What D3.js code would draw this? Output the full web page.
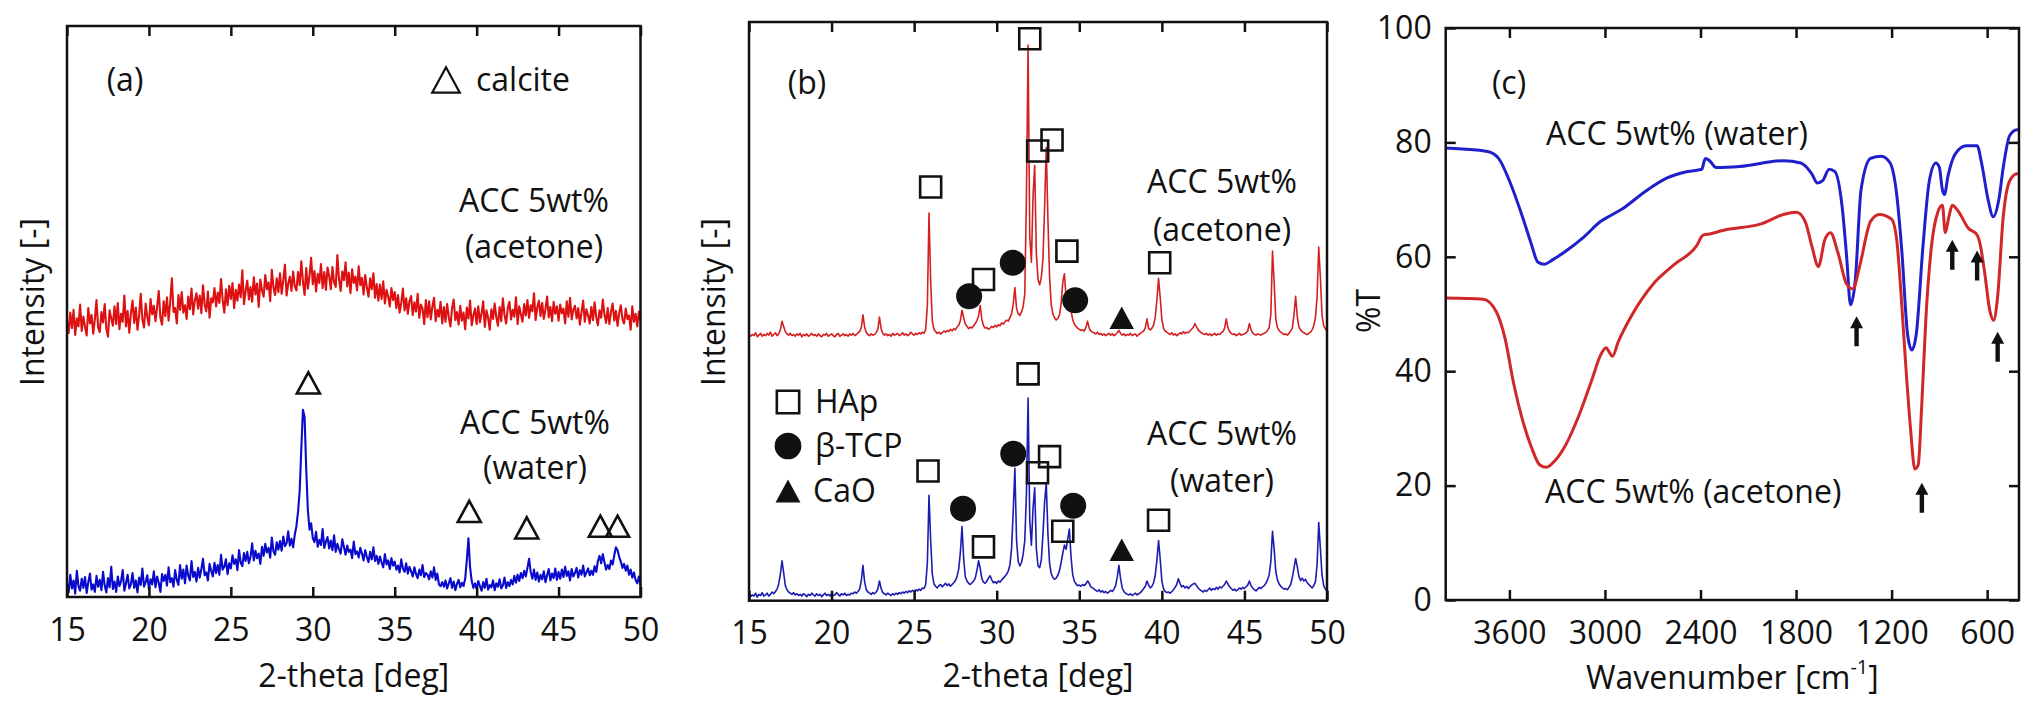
<!DOCTYPE html>
<html>
<head>
<meta charset="utf-8">
<script src="https://cdn.jsdelivr.net/npm/d3@7"></script>
<style>
    body { margin: 0; background: #fff; }
    svg text { font-family: "Open Sans", sans-serif; font-size: 32px; fill: #111; }
</style>
</head>
<body>
<svg id="fig" width="2030" height="708"></svg>
<script>
// XRD scans: 2-theta from 15 to 50 deg, one reading every 0.1 deg
const scanStart = 15;
const scanStep = 0.1;
const xrdTicks = [15, 20, 25, 30, 35, 40, 45, 50];

// (a) ACC 5wt% as prepared
const aAcetone = [
    48.5, 46.2, 49.8, 47.1, 50.3, 45.9, 48.8, 47.4, 51.2, 46.6,
    49.1, 47.3, 45.8, 50.6, 47.9, 49.4, 46.1, 48.7, 52.0, 47.2,
    46.4, 49.9, 48.1, 51.3, 47.0, 45.6, 50.2, 48.8, 47.5, 50.9,
    47.8, 51.5, 46.9, 49.6, 48.2, 52.8, 47.4, 50.1, 46.3, 49.7,
    51.9, 48.0, 50.7, 46.8, 49.3, 53.1, 48.6, 47.2, 51.4, 49.0,
    47.6, 52.2, 49.5, 51.0, 48.3, 50.8, 53.6, 48.9, 47.7, 51.8,
    49.2, 52.5, 48.4, 51.7, 55.8, 49.9, 50.6, 47.9, 52.9, 50.3,
    53.4, 49.8, 51.1, 48.7, 52.6, 50.4, 54.0, 49.5, 51.9, 53.2,
    50.5, 52.8, 49.7, 54.6, 51.2, 50.0, 53.5, 48.9, 52.3, 51.6,
    54.1, 50.9, 53.3, 51.5, 55.7, 52.0, 49.8, 53.9, 51.1, 54.5,
    52.2, 55.0, 50.6, 53.8, 51.9, 54.7, 52.5, 57.2, 51.3, 53.6,
    55.4, 52.1, 54.3, 51.7, 56.0, 53.0, 54.9, 50.8, 55.6, 53.7,
    52.6, 56.4, 53.9, 55.1, 51.8, 57.3, 54.2, 52.9, 55.8, 53.4,
    56.7, 53.1, 55.5, 58.2, 52.8, 54.9, 56.1, 53.6, 57.0, 54.4,
    53.7, 56.9, 54.6, 58.8, 55.2, 52.9, 57.6, 54.0, 56.3, 59.4,
    54.8, 57.1, 53.5, 56.6, 55.0, 58.3, 54.1, 56.9, 53.8, 57.7,
    56.2, 53.9, 57.8, 55.1, 54.3, 59.9, 55.7, 53.6, 57.0, 55.5,
    58.6, 54.4, 56.8, 53.2, 57.4, 55.0, 56.1, 53.7, 57.9, 54.6,
    55.9, 53.0, 56.4, 54.2, 52.6, 55.8, 53.9, 56.7, 52.4, 54.8,
    51.9, 54.7, 52.2, 55.3, 51.4, 53.8, 52.6, 50.9, 54.1, 52.0,
    53.4, 50.6, 52.9, 49.8, 51.5, 54.0, 50.2, 52.3, 49.6, 51.8,
    52.7, 49.4, 51.6, 50.0, 53.1, 48.9, 51.2, 50.5, 47.8, 52.0,
    49.0, 51.8, 48.6, 50.9, 52.4, 48.3, 50.3, 49.1, 51.7, 47.9,
    50.8, 48.2, 51.3, 49.0, 47.4, 50.6, 52.1, 48.5, 49.9, 47.7,
    51.0, 48.4, 49.8, 46.9, 50.7, 48.8, 51.9, 47.6, 49.3, 50.5,
    47.8, 50.9, 48.1, 49.6, 51.8, 47.3, 50.2, 48.9, 46.8, 50.4,
    48.7, 51.4, 49.0, 47.5, 50.8, 48.3, 52.3, 49.4, 47.9, 50.6,
    51.7, 48.6, 50.3, 49.1, 52.5, 47.8, 50.9, 49.5, 48.2, 51.3,
    49.3, 52.0, 48.9, 51.1, 50.0, 53.2, 48.5, 50.7, 51.9, 49.2,
    51.5, 48.7, 50.4, 52.6, 49.0, 50.8, 48.3, 51.7, 49.6, 50.9,
    48.4, 51.2, 49.7, 50.5, 47.9, 51.8, 49.1, 52.4, 48.6, 50.3,
    51.0, 48.8, 50.6, 47.7, 49.9, 51.9, 48.2, 50.4, 49.3, 47.9,
    50.8, 48.5, 51.6, 49.0, 47.6, 50.2, 48.9, 52.1, 49.5, 48.0,
    50.6, 47.8, 49.9, 51.4, 48.4, 50.1, 47.5, 49.7, 51.1, 48.6,
    47.9, 50.5, 48.7, 49.3, 46.8, 50.9, 48.2, 49.6, 47.4, 50.0,
    48.5
];
const aWater = [
    2.4, 0.8, 3.9, 1.5, 2.9, 0.6, 4.6, 1.9, 1.1, 3.2,
    1.6, 3.5, 0.7, 2.6, 4.1, 1.3, 2.2, 0.9, 3.7, 1.8,
    3.0, 1.2, 4.4, 2.0, 0.8, 3.3, 1.7, 5.3, 1.4, 2.7,
    0.9, 3.6, 1.9, 2.8, 4.7, 1.1, 2.4, 3.9, 1.5, 2.2,
    4.2, 1.6, 2.9, 0.8, 3.4, 2.1, 5.0, 1.8, 2.6, 3.8,
    1.4, 3.1, 2.2, 4.5, 1.7, 3.6, 2.5, 0.9, 4.0, 2.8,
    3.9, 2.0, 5.2, 2.6, 3.3, 1.8, 4.7, 3.0, 2.1, 5.6,
    3.2, 4.8, 2.4, 5.5, 3.7, 2.9, 6.3, 3.5, 4.4, 2.7,
    5.1, 3.4, 4.9, 6.7, 3.8, 4.3, 2.9, 5.8, 4.6, 3.6,
    6.0, 4.2, 5.6, 3.9, 7.4, 4.8, 5.3, 6.6, 4.0, 5.9,
    5.0, 7.3, 5.8, 6.6, 4.7, 8.2, 6.0, 5.4, 7.7, 6.3,
    7.9, 5.9, 7.0, 9.4, 6.4, 8.1, 6.8, 7.6, 5.8, 8.8,
    7.2, 9.3, 7.8, 8.6, 6.9, 10.4, 8.0, 7.4, 9.6, 8.3,
    9.8, 8.1, 10.6, 8.9, 9.4, 11.5, 9.0, 10.2, 8.7, 10.9,
    12.4, 14.9, 18.6, 26.0, 32.8, 31.5, 22.4, 15.2, 11.8, 12.9,
    10.3, 9.6, 11.4, 8.8, 10.0, 9.1, 11.9, 8.6, 9.7, 10.5,
    8.5, 9.9, 8.2, 10.8, 7.9, 9.3, 8.4, 7.6, 10.1, 8.8,
    7.4, 9.0, 7.9, 8.3, 6.8, 9.7, 7.5, 8.0, 6.9, 8.6,
    7.6, 6.4, 8.2, 7.0, 6.1, 7.9, 6.6, 8.7, 6.3, 7.2,
    5.8, 7.1, 6.0, 5.2, 7.5, 5.7, 6.4, 4.9, 6.8, 5.5,
    6.2, 4.8, 5.5, 4.3, 6.6, 5.0, 4.4, 5.9, 4.1, 5.3,
    4.5, 3.6, 5.2, 4.0, 3.3, 4.8, 3.8, 5.6, 3.5, 4.2,
    3.9, 3.1, 4.5, 3.4, 5.2, 3.0, 4.1, 2.2, 1.9, 2.6,
    1.8, 2.9, 1.5, 2.4, 3.3, 1.6, 2.7, 1.2, 2.3, 3.0,
    1.7, 2.5, 1.9, 3.2, 6.4, 10.3, 5.2, 2.8, 1.6, 2.4,
    1.4, 2.8, 1.9, 1.1, 2.6, 1.6, 3.2, 1.3, 2.1, 1.7,
    2.9, 1.2, 2.4, 1.8, 3.1, 1.5, 2.0, 3.4, 1.6, 2.6,
    1.9, 3.0, 2.2, 3.7, 2.5, 3.9, 2.8, 4.2, 3.3, 4.6,
    3.6, 5.1, 6.7, 4.4, 3.2, 4.8, 3.0, 4.3, 2.7, 3.9,
    3.1, 4.5, 2.6, 3.8, 4.9, 2.9, 4.1, 3.3, 5.0, 3.0,
    4.4, 3.2, 4.8, 3.5, 5.3, 3.7, 4.5, 2.9, 4.9, 3.6,
    4.2, 5.1, 3.4, 4.7, 3.9, 5.5, 3.6, 4.3, 5.0, 3.8,
    4.6, 3.9, 5.4, 4.4, 6.3, 7.2, 5.9, 7.5, 6.1, 4.8,
    5.6, 4.9, 6.4, 5.7, 7.3, 8.7, 8.2, 7.0, 6.2, 5.1,
    5.8, 4.6, 5.5, 3.9, 4.8, 3.4, 4.3, 3.0, 2.4, 3.6,
    2.0
];
// calcite reflections marked above the water pattern [2-theta, intensity]
const aCalcite = [[29.73, 37.5], [39.55, 15.0], [43.06, 12.1], [47.55, 12.4], [48.6, 12.4]];

// (b) after heating
const bAcetone = [
    46.1, 45.7, 46.0, 45.8, 46.3, 45.6, 45.9, 46.2, 45.7, 46.0,
    45.8, 46.2, 45.9, 46.4, 45.7, 46.0, 46.3, 45.8, 46.1, 46.8,
    48.3, 47.4, 46.5, 46.1, 45.9, 46.2, 45.8, 46.0, 45.7, 46.1,
    45.9, 46.2, 45.6, 46.0, 45.8, 46.1, 45.7, 45.9, 46.2, 45.8,
    46.0, 45.7, 46.1, 45.8, 45.6, 46.0, 45.9, 46.2, 45.7, 45.9,
    46.1, 45.8, 45.6, 46.0, 46.2, 45.7, 45.9, 46.1, 45.8, 46.0,
    45.7, 46.1, 45.9, 46.2, 45.8, 46.0, 46.3, 46.5, 47.2, 49.4,
    47.3, 46.4, 46.0, 45.8, 46.1, 45.9, 46.0, 46.3, 46.9, 49.0,
    47.0, 46.2, 45.9, 46.1, 45.8, 46.0, 45.7, 46.2, 45.9, 46.0,
    46.2, 45.8, 46.0, 46.3, 45.9, 46.1, 45.8, 46.0, 46.4, 46.1,
    45.9, 46.2, 46.0, 46.3, 46.1, 46.4, 46.2, 46.9, 51.0, 67.0,
    55.2, 48.3, 46.9, 46.5, 46.2, 46.4, 46.1, 46.3, 46.6, 46.4,
    46.7, 46.5, 46.9, 46.6, 47.0, 46.8, 47.3, 47.6, 48.4, 50.2,
    48.9, 47.8, 47.4, 47.0, 47.3, 47.1, 47.5, 47.9, 48.4, 49.2,
    51.0, 48.6, 47.5, 47.1, 47.2, 46.9, 47.1, 47.4, 47.2, 47.6,
    47.3, 47.7, 47.5, 48.0, 47.8, 48.2, 48.5, 48.3, 48.9, 49.6,
    51.2, 54.1, 50.6, 49.6, 49.3, 49.9, 50.8, 53.0, 70.0, 96.0,
    63.0, 58.5, 70.0, 75.2, 60.0, 55.5, 54.6, 55.8, 59.0, 68.0,
    78.3, 66.0, 56.0, 51.2, 49.6, 48.9, 48.5, 48.8, 49.4, 51.3,
    55.0, 56.5, 52.3, 51.4, 52.8, 50.1, 48.6, 47.8, 47.4, 47.1,
    46.9, 46.7, 46.8, 46.6, 47.2, 48.3, 47.1, 46.6, 46.4, 46.3,
    46.1, 46.4, 46.0, 46.2, 45.9, 46.1, 45.8, 46.0, 46.2, 45.9,
    46.1, 45.8, 46.0, 46.3, 46.7, 46.2, 45.9, 46.1, 45.8, 46.0,
    45.9, 46.2, 45.8, 46.0, 46.1, 45.7, 46.0, 46.2, 46.4, 46.6,
    47.2, 48.7, 47.0, 46.8, 47.1, 47.6, 49.0, 52.0, 55.7, 52.4,
    48.6, 47.1, 46.6, 46.4, 46.2, 46.0, 46.3, 45.9, 46.1, 45.8,
    46.0, 46.3, 46.1, 46.5, 46.2, 46.4, 46.3, 46.6, 46.9, 47.2,
    47.9, 47.3, 46.8, 46.5, 46.3, 46.1, 46.0, 46.2, 45.9, 46.1,
    45.8, 46.0, 46.2, 45.9, 46.1, 46.0, 46.3, 46.5, 47.1, 48.7,
    47.2, 46.5, 46.2, 46.0, 46.1, 45.8, 46.0, 46.2, 45.9, 46.0,
    46.1, 46.3, 46.6, 47.9, 46.8, 46.3, 46.0, 45.9, 46.1, 46.0,
    45.9, 46.1, 46.2, 46.4, 46.7, 47.2, 49.5, 60.4, 55.0, 48.6,
    47.2, 46.7, 46.4, 46.2, 46.0, 46.1, 45.9, 46.2, 46.6, 47.1,
    49.4, 52.6, 49.1, 47.3, 46.8, 46.5, 46.3, 46.1, 46.0, 46.2,
    46.4, 46.8, 47.5, 48.9, 52.5, 61.1, 55.8, 49.3, 47.5, 47.0,
    46.6
];
const bWater = [
    1.2, 0.7, 1.0, 0.8, 1.3, 0.6, 1.1, 0.9, 1.4, 0.8,
    1.0, 1.3, 0.8, 1.1, 1.5, 1.2, 1.6, 2.0, 2.9, 4.6,
    6.9, 4.8, 2.6, 1.9, 1.5, 1.3, 1.1, 1.4, 1.0, 1.2,
    0.9, 1.1, 0.8, 1.2, 1.0, 0.7, 1.1, 0.9, 1.3, 1.0,
    0.8, 1.2, 0.9, 1.1, 0.7, 1.0, 1.3, 0.9, 1.1, 0.8,
    1.2, 0.9, 1.0, 1.4, 1.1, 0.8, 1.2, 1.0, 1.3, 0.9,
    1.1, 1.0, 1.3, 1.2, 1.5, 1.3, 1.6, 2.0, 3.4, 6.1,
    3.3, 1.9, 1.5, 1.3, 1.1, 1.4, 1.2, 1.5, 2.0, 3.4,
    2.1, 1.4, 1.2, 1.0, 1.3, 1.1, 0.9, 1.2, 1.0, 1.3,
    1.1, 1.4, 1.2, 1.5, 1.3, 1.6, 1.4, 1.7, 1.5, 1.8,
    1.6, 1.9, 1.7, 2.0, 1.8, 2.2, 2.1, 2.8, 6.5, 18.2,
    10.5, 4.6, 2.9, 2.5, 2.2, 2.6, 2.8, 2.4, 2.7, 3.0,
    2.6, 2.9, 2.5, 2.8, 3.1, 3.5, 4.2, 5.5, 8.4, 12.8,
    7.2, 4.1, 3.4, 3.0, 2.8, 3.1, 3.4, 3.9, 5.2, 6.9,
    5.6, 3.8, 3.2, 3.0, 3.4, 3.9, 4.3, 3.6, 3.1, 3.3,
    3.0, 3.4, 3.2, 3.6, 3.9, 4.2, 4.6, 5.1, 6.2, 9.0,
    15.5, 22.9, 10.5, 6.8, 6.0, 6.6, 8.0, 10.4, 18.5, 35.0,
    14.0, 9.6, 16.0, 19.5, 9.0, 6.0, 5.7, 7.0, 11.5, 17.0,
    20.4, 11.6, 6.5, 4.7, 4.0, 3.7, 3.9, 4.4, 5.2, 6.6,
    8.2, 9.6, 8.9, 10.6, 12.4, 7.6, 4.5, 3.4, 2.9, 2.6,
    2.7, 2.5, 2.8, 2.6, 2.9, 3.4, 3.0, 2.4, 2.2, 2.0,
    1.8, 1.6, 1.9, 1.5, 1.7, 1.4, 1.6, 1.3, 1.5, 1.8,
    1.6, 2.0, 2.6, 4.1, 6.1, 3.8, 2.2, 1.6, 1.3, 1.1,
    1.0, 1.2, 0.9, 1.1, 1.3, 1.0, 1.2, 1.4, 1.7, 2.1,
    2.5, 3.4, 2.7, 2.2, 2.5, 3.1, 4.4, 7.0, 10.4, 7.2,
    3.4, 2.1, 1.6, 1.4, 1.5, 1.3, 1.6, 1.9, 2.3, 2.8,
    3.8, 3.0, 2.4, 2.6, 2.2, 2.5, 2.1, 2.4, 2.7, 2.9,
    3.0, 2.6, 2.2, 1.9, 1.7, 1.5, 1.8, 1.6, 1.9, 2.2,
    1.8, 2.1, 1.9, 2.3, 2.0, 2.4, 2.2, 2.5, 2.8, 3.4,
    2.9, 2.4, 2.1, 1.8, 2.0, 1.7, 1.9, 2.2, 2.0, 2.3,
    2.1, 2.4, 2.7, 3.4, 2.6, 2.2, 1.9, 1.7, 2.0, 2.3,
    2.1, 2.4, 2.6, 3.0, 3.6, 4.5, 6.8, 12.0, 8.9, 5.0,
    3.6, 2.9, 2.5, 2.2, 2.0, 2.1, 1.9, 2.3, 2.8, 4.0,
    5.6, 7.3, 5.9, 4.2, 3.5, 3.9, 3.4, 3.7, 3.1, 2.8,
    2.5, 2.2, 2.6, 3.3, 6.2, 13.5, 9.0, 4.4, 2.6, 2.0,
    1.7
];
// phase markers [2-theta, intensity]
const bHapAcetone = [[32.0, 97.1], [33.35, 79.6], [32.48, 77.7], [26.0, 71.5], [29.2, 55.5], [34.25, 60.4], [39.87, 58.4]];
const bTcpAcetone = [[30.97, 58.4], [28.33, 52.6], [34.75, 51.9]];
const bCaoAcetone = [[37.57, 48.9]];
const bHapWater = [[31.9, 39.2], [33.2, 24.9], [32.47, 22.1], [25.84, 22.4], [29.2, 9.3], [34.0, 12.0], [39.8, 13.9]];
const bTcpWater = [[31.0, 25.4], [27.96, 15.9], [34.63, 16.4]];
const bCaoWater = [[37.57, 8.8]];

// (c) FT-IR [wavenumber, %T]
const irWater = [
    [4000, 79.0], [3737, 78.4], [3668, 77.2], [3600, 73.3], [3518, 67.0], [3463, 62.3],
    [3422, 59.1], [3381, 58.7], [3327, 59.5], [3245, 61.0], [3135, 63.4], [3026, 66.2],
    [2972, 67.1], [2890, 68.4], [2753, 71.3], [2616, 73.7], [2480, 74.9], [2392, 75.3],
    [2370, 77.2], [2343, 76.8], [2302, 75.6], [2152, 75.8], [1879, 76.8], [1770, 76.4],
    [1701, 74.5], [1666, 72.9], [1633, 73.3], [1592, 75.3], [1556, 74.9], [1510, 68.6],
    [1482, 59.9], [1458, 51.6], [1428, 55.9], [1392, 71.7], [1332, 77.2], [1264, 77.6],
    [1209, 76.4], [1168, 70.9], [1135, 60.7], [1100, 46.5], [1073, 43.7], [1045, 46.5],
    [1004, 61.5], [963, 73.3], [922, 76.4], [900, 75.6], [881, 71.7], [868, 70.9],
    [846, 74.1], [800, 78.0], [731, 79.4], [663, 79.4], [635, 76.4], [595, 70.1],
    [562, 67.0], [526, 70.1], [499, 75.6], [458, 81.2], [412, 82.2], [400, 82.2]
];
const irAcetone = [
    [4000, 52.8], [3764, 52.6], [3682, 50.4], [3627, 45.7], [3573, 37.8], [3518, 31.5],
    [3463, 26.8], [3409, 23.6], [3368, 23.2], [3313, 24.4], [3245, 27.2], [3163, 32.3],
    [3081, 38.6], [3026, 42.9], [2993, 44.1], [2972, 43.3], [2953, 42.6], [2917, 45.1],
    [2835, 49.6], [2698, 55.2], [2562, 58.7], [2425, 61.9], [2384, 63.8], [2343, 64.0],
    [2261, 64.6], [2015, 65.8], [1879, 67.4], [1797, 67.8], [1743, 66.2], [1701, 61.9],
    [1660, 58.3], [1619, 63.0], [1584, 64.2], [1537, 60.7], [1482, 55.2], [1442, 54.4],
    [1401, 58.3], [1332, 66.2], [1277, 67.4], [1201, 66.6], [1168, 63.0], [1141, 53.6],
    [1113, 41.8], [1081, 29.9], [1054, 22.9], [1033, 23.6], [1011, 33.9], [984, 49.6],
    [951, 61.5], [910, 67.8], [881, 69.0], [863, 64.2], [841, 66.9], [819, 69.0],
    [787, 68.2], [718, 65.0], [663, 63.8], [645, 62.3], [617, 57.5], [582, 50.4],
    [560, 48.9], [535, 52.8], [499, 67.0], [458, 73.3], [412, 74.5], [400, 74.5]
];
// arrow tips [wavenumber, %T]
const irArrows = [[1420, 49.6], [1010, 20.5], [819, 63.0], [663, 61.1], [534, 46.9]];
const irXTicks = [3600, 3000, 2400, 1800, 1200, 600];
const irYTicks = [0, 20, 40, 60, 80, 100];

const svg = d3.select('#fig');

const triangleUp = {
    draw(context, size) {
        const s = Math.sqrt(size);
        context.moveTo(0, -0.46 * s);
        context.lineTo(0.5 * s, 0.46 * s);
        context.lineTo(-0.5 * s, 0.46 * s);
        context.closePath();
    }
};

function scanPoints(values) {
    return values.map((v, i) => [scanStart + i * scanStep, v]);
}

// frame with inward ticks on all four sides
function drawFrame(box, x, y, xTicks, yTicks) {
    const g = svg.append('g');

    g.append('g')
        .attr('transform', `translate(0,${box.bottom})`)
        .call(d3.axisBottom(x).tickValues(xTicks).tickFormat(d3.format('d'))
            .tickSizeInner(-10).tickSizeOuter(0).tickPadding(21));
    g.append('g')
        .attr('transform', `translate(0,${box.top})`)
        .call(d3.axisTop(x).tickValues(xTicks).tickSizeInner(-10).tickSizeOuter(0).tickFormat(() => ''));

    if (yTicks) {
        g.append('g')
            .attr('transform', `translate(${box.left},0)`)
            .call(d3.axisLeft(y).tickValues(yTicks).tickSizeInner(-10).tickSizeOuter(0).tickPadding(14));
        g.append('g')
            .attr('transform', `translate(${box.right},0)`)
            .call(d3.axisRight(y).tickValues(yTicks).tickSizeInner(-10).tickSizeOuter(0).tickFormat(() => ''));
    }

    g.selectAll('.domain').remove();
    g.selectAll('.tick line').attr('stroke', '#111').attr('stroke-width', 2.5);

    g.append('rect')
        .attr('x', box.left)
        .attr('y', box.top)
        .attr('width', box.right - box.left)
        .attr('height', box.bottom - box.top)
        .attr('fill', 'none')
        .attr('stroke', '#111')
        .attr('stroke-width', 2.5);
}

function drawTrace(points, x, y, color, width, curve) {
    const line = d3.line()
        .x(d => x(d[0]))
        .y(d => y(d[1]));
    if (curve) line.curve(curve);

    svg.append('path')
        .datum(points)
        .attr('fill', 'none')
        .attr('stroke', color)
        .attr('stroke-width', width)
        .attr('stroke-linejoin', 'round')
        .attr('d', line);
}

function drawMarkers(points, x, y, type, size, filled) {
    svg.append('g').selectAll('path')
        .data(points)
        .enter()
        .append('path')
        .attr('transform', d => `translate(${x(d[0])},${y(d[1])})`)
        .attr('d', d3.symbol().type(type).size(size))
        .attr('fill', filled ? '#111' : 'none')
        .attr('stroke', filled ? 'none' : '#111')
        .attr('stroke-width', 2.6);
}

function addText(str, px, py, anchor) {
    return svg.append('text')
        .attr('x', px)
        .attr('y', py)
        .attr('dy', '0.35em')
        .attr('text-anchor', anchor || 'middle')
        .text(str);
}

function addYTitle(str, px, py) {
    svg.append('text')
        .attr('transform', `translate(${px},${py}) rotate(-90)`)
        .attr('dy', '0.35em')
        .attr('text-anchor', 'middle')
        .text(str);
}

// ---- (a) ----
function createPanelA() {
    const box = {left: 67, right: 640.5, top: 26, bottom: 597};
    const x = d3.scaleLinear().domain([15, 50]).range([box.left, box.right]);
    const y = d3.scaleLinear().domain([0, 100]).range([box.bottom, box.top]);

    drawTrace(scanPoints(aAcetone), x, y, '#dd1111', 2.1);
    drawTrace(scanPoints(aWater), x, y, '#0a0acc', 2.1);
    drawFrame(box, x, y, xrdTicks, null);

    drawMarkers(aCalcite, x, y, triangleUp, 529, false);

    // legend
    svg.append('path')
        .attr('transform', 'translate(446,80)')
        .attr('d', d3.symbol().type(triangleUp).size(760))
        .attr('fill', 'none')
        .attr('stroke', '#111')
        .attr('stroke-width', 2.2);
    addText('calcite', 476, 80, 'start');

    addText('(a)', 125, 80);
    addText('ACC 5wt%', 534, 201);
    addText('(acetone)', 534, 247);
    addText('ACC 5wt%', 535, 423);
    addText('(water)', 535, 468);

    addText('2-theta [deg]', (box.left + box.right) / 2, 676);
    addYTitle('Intensity [-]', 33, 302);
}

// ---- (b) ----
function createPanelB() {
    const box = {left: 749, right: 1327, top: 22, bottom: 600.7};
    const x = d3.scaleLinear().domain([15, 50]).range([box.left, box.right]);
    const y = d3.scaleLinear().domain([0, 100]).range([box.bottom, box.top]);

    drawTrace(scanPoints(bAcetone), x, y, '#d42020', 1.6);
    drawTrace(scanPoints(bWater), x, y, '#1c1cb0', 1.6);
    drawFrame(box, x, y, xrdTicks, null);

    drawMarkers(bHapAcetone, x, y, d3.symbolSquare, 441, false);
    drawMarkers(bHapWater, x, y, d3.symbolSquare, 441, false);
    drawMarkers(bTcpAcetone, x, y, d3.symbolCircle, 530, true);
    drawMarkers(bTcpWater, x, y, d3.symbolCircle, 530, true);
    drawMarkers(bCaoAcetone, x, y, triangleUp, 600, true);
    drawMarkers(bCaoWater, x, y, triangleUp, 600, true);

    // legend
    const lg = svg.append('g');
    lg.append('path').attr('transform', 'translate(788,402)')
        .attr('d', d3.symbol().type(d3.symbolSquare).size(500))
        .attr('fill', 'none').attr('stroke', '#111').attr('stroke-width', 2.6);
    lg.append('path').attr('transform', 'translate(788,446)')
        .attr('d', d3.symbol().type(d3.symbolCircle).size(560))
        .attr('fill', '#111');
    lg.append('path').attr('transform', 'translate(788,491)')
        .attr('d', d3.symbol().type(triangleUp).size(620))
        .attr('fill', '#111');
    addText('HAp', 815, 402, 'start');
    addText('\u03b2-TCP', 815, 446, 'start');
    addText('CaO', 813, 491, 'start');

    addText('(b)', 807, 83);
    addText('ACC 5wt%', 1222, 182);
    addText('(acetone)', 1222, 230);
    addText('ACC 5wt%', 1222, 434);
    addText('(water)', 1222, 481);

    addText('2-theta [deg]', (box.left + box.right) / 2, 676);
    addYTitle('Intensity [-]', 714, 302);
}

// ---- (c) ----
function createPanelC() {
    const box = {left: 1445.7, right: 2019, top: 28, bottom: 600};
    const x = d3.scaleLinear().domain([4000, 400]).range([box.left, box.right]);
    const y = d3.scaleLinear().domain([0, 100]).range([box.bottom, box.top]);

    drawTrace(irWater, x, y, '#1f1fcc', 3, d3.curveMonotoneX);
    drawTrace(irAcetone, x, y, '#d02828', 3, d3.curveMonotoneX);
    drawFrame(box, x, y, irXTicks, irYTicks);

    // arrows pointing up at the bands
    svg.append('g').selectAll('path')
        .data(irArrows)
        .enter()
        .append('path')
        .attr('transform', d => `translate(${x(d[0])},${y(d[1])})`)
        .attr('d', 'M0,0 L6.5,12 L2.2,12 L2.2,30 L-2.2,30 L-2.2,12 L-6.5,12 Z')
        .attr('fill', '#111');

    addText('(c)', 1509, 83);
    addText('ACC 5wt% (water)', 1546, 134, 'start');
    addText('ACC 5wt% (acetone)', 1545, 492, 'start');

    const xt = svg.append('text')
        .attr('x', (box.left + box.right) / 2)
        .attr('y', 678)
        .attr('dy', '0.35em')
        .attr('text-anchor', 'middle');
    xt.append('tspan').text('Wavenumber [cm');
    xt.append('tspan').attr('dy', '-0.75em').style('font-size', '20px').text('-1');
    xt.append('tspan').attr('dy', '0.47em').text(']');

    addYTitle('%T', 1369, 311);
}

createPanelA();
createPanelB();
createPanelC();
</script>
</body>
</html>
